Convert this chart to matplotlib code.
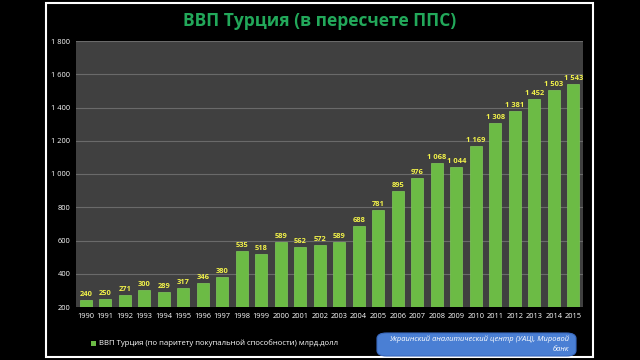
import matplotlib
matplotlib.use('Agg')
import matplotlib.pyplot as plt
from matplotlib.patches import Rectangle, FancyBboxPatch

years = [str(y) for y in range(1990, 2016)]
gdp = [240, 250, 271, 300, 289, 317, 346, 380, 535, 518, 589, 562, 572,
       589, 688, 781, 895, 976, 1068, 1044, 1169, 1308, 1381, 1452, 1503, 1543]
yticks = [200, 400, 600, 800, 1000, 1200, 1400, 1600, 1800]

title = 'ВВП Турция (в пересчете ППС)'
legend_label = 'ВВП Турция (по паритету покупальной способности) млрд.долл'
source = 'Украинский аналитический центр (УАЦ), Мировой\nбанк'

def fmt(v):
    return f'{v:,}'.replace(',', ' ')

plt.rcParams['font.family'] = ['Open Sans', 'DejaVu Sans']

fig = plt.figure(figsize=(6.4, 3.6), dpi=100)
fig.patch.set_facecolor('black')

# white frame
fig.add_artist(Rectangle((46/640, 3/360), (593-46)/640, (357-3)/360,
                         transform=fig.transFigure, fill=False,
                         edgecolor='white', linewidth=1.5))

ax = fig.add_axes([76/640, 53/360, (583-76)/640, (307-41)/360])
ax.set_facecolor('#404040')
x = list(range(len(years)))
ax.bar(x, [v - 200 for v in gdp], bottom=200, width=0.6,
       color='#6cbb45', edgecolor='#7fcc58', linewidth=0.5, zorder=3)
for xi, v in zip(x, gdp):
    ax.text(xi, v + 12, fmt(v), ha='center', va='bottom', fontsize=5.4,
            color='#f2f24a', fontweight='bold', zorder=4)

ax.set_ylim(200, 1800)
ax.set_xlim(-0.5, len(years) - 0.5)
ax.set_yticks(yticks)
ax.set_yticklabels([fmt(t) for t in yticks])
ax.set_xticks(x)
ax.set_xticklabels(years)
ax.tick_params(colors='white', labelsize=5.4, length=0, pad=4)
ax.grid(axis='y', color='#6a6a6a', linewidth=0.8, zorder=0)
for s in ax.spines.values():
    s.set_visible(False)

fig.text(320/640, 1 - 21/360, title, ha='center', va='center',
         fontsize=12.5, fontweight='bold', color='#22a85a')

# legend
fig.add_artist(Rectangle((91/640, 1 - 346/360), 5/640, 5/360,
                         transform=fig.transFigure, facecolor='#6cbb45',
                         edgecolor='none'))
fig.text(99/640, 1 - 343.5/360, legend_label, ha='left', va='center',
         fontsize=5.6, color='white')

# source box
box = FancyBboxPatch((377/640, 4/360), (576-377)/640, (357-334)/360,
                     boxstyle='round,pad=0,rounding_size=0.015',
                     transform=fig.transFigure, facecolor='#4a7fd4',
                     edgecolor='#3a6ac0', linewidth=0.8)
fig.add_artist(box)
fig.text(569/640, 1 - 344/360, source, ha='right', va='center', fontsize=5.4,
         color='white', style='italic', linespacing=1.6)

fig.savefig('out.png', dpi=100, facecolor=fig.get_facecolor())
